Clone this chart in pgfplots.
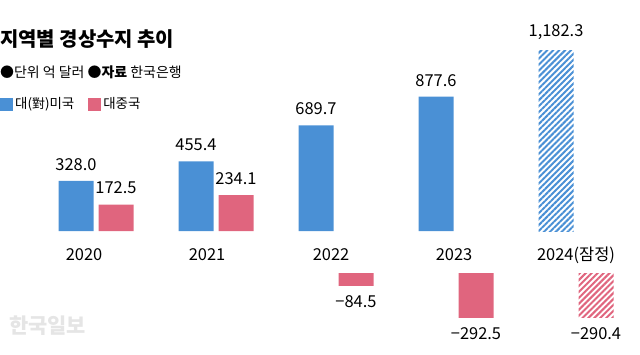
\documentclass[border=0pt]{standalone}
\usepackage{fontspec}
\setmainfont{Noto Sans CJK KR}
\usepackage{pgfplots}
\pgfplotsset{compat=1.18}
\usetikzlibrary{patterns.meta}
\definecolor{cblue}{HTML}{4A90D5}
\definecolor{cpink}{HTML}{E0657E}
\newcommand{\vfont}{\fontsize{16.5}{18}\selectfont}

\begin{document}
\begin{tikzpicture}[x=1bp,y=1bp]
\path[use as bounding box] (0,0) rectangle (640,354);
% positive values
\begin{axis}[at={(0,0)}, anchor=south west, scale only axis,
  width=640bp, height=354bp,
  xmin=-0.8, xmax=4.533333, ymin=-803.9, ymax=1509.8,
  axis lines=none, clip=false,
  nodes near coords, point meta=explicit symbolic,
  every node near coord/.append style={font=\vfont, text=black, inner sep=0pt, outer sep=0pt},
  legend style={at={(0,0.7062)}, anchor=west, draw=none, fill=none, inner sep=0pt,
    font=\fontsize{13.5}{13.5}\selectfont, legend columns=2,
    /tikz/every even column/.append style={column sep=12bp},
    nodes={inner xsep=2bp, inner ysep=0pt}},
  legend image code/.code={\draw[#1,draw=none] (0bp,-6.5bp) rectangle (13bp,6.5bp);},
  legend cell align=left]
\addplot[ybar, bar width=35bp, bar shift=-20bp, fill=cblue, draw=none,
  every node near coord/.append style={anchor=south, xshift=-20bp, yshift=10.5bp}] table[meta=l]{
x y l
0 328.0 328.0
1 455.4 455.4
2 689.7 689.7
3 877.6 877.6
};
\addlegendentry{대({\fontsize{13}{13}\selectfont 對})미국}
\addplot[ybar, bar width=35bp, bar shift=20bp, fill=cpink, draw=none,
  every node near coord/.append style={anchor=south, xshift=20bp, yshift=10.5bp}] table[meta=l]{
x y l
0 172.5 172.5
1 234.1 234.1
};
\addlegendentry{대중국}
\addplot[ybar, bar width=35bp, bar shift=-20bp, draw=none, forget plot,
  pattern={Lines[angle=45,distance=4.2bp,line width=2bp]}, pattern color=cblue,
  every node near coord/.append style={anchor=south, xshift=-20bp, yshift=10.5bp}] table[meta=l]{
x y l
4 1182.3 1,182.3
};
\end{axis}
% negative values (drawn below the year labels)
\begin{axis}[at={(0,0)}, anchor=south west, scale only axis,
  width=640bp, height=354bp,
  xmin=-0.8, xmax=4.533333, ymin=-529.4, ymax=1784.3,
  axis lines=none, clip=false,
  nodes near coords, point meta=explicit symbolic,
  every node near coord/.append style={font=\vfont, text=black, inner sep=0pt, outer sep=0pt,
    anchor=north, xshift=20bp, yshift=-10bp}]
\addplot[ybar, bar width=35bp, bar shift=20bp, fill=cpink, draw=none] table[meta=l]{
x y l
2 -84.5 −84.5
3 -292.5 −292.5
};
\addplot[ybar, bar width=35bp, bar shift=20bp, draw=none,
  pattern={Lines[angle=45,distance=4.2bp,line width=2bp]}, pattern color=cpink] table[meta=l]{
x y l
4 -290.4 −290.4
};
\end{axis}
% year labels
\foreach \xx/\yy in {84/2020, 207/2021, 331/2022, 454/2023, 576/2024(잠정)}
  \node[anchor=base, font=\vfont, inner sep=0pt] at (\xx,94) {\yy};
% title and notes
\node[anchor=base west, inner sep=0pt, font=\fontsize{20}{20}\selectfont\bfseries] at (0,308) {지역별 경상수지 추이};
\node[anchor=base west, inner sep=0pt, font=\fontsize{14}{14}\selectfont] at (0,277) {●단위 억 달러 ●\textbf{자료} 한국은행};
% watermark
\node[anchor=base west, inner sep=0pt, text=black!10, font=\fontsize{21}{21}\selectfont\bfseries] at (9,21) {한국일보};
\end{tikzpicture}
\end{document}
